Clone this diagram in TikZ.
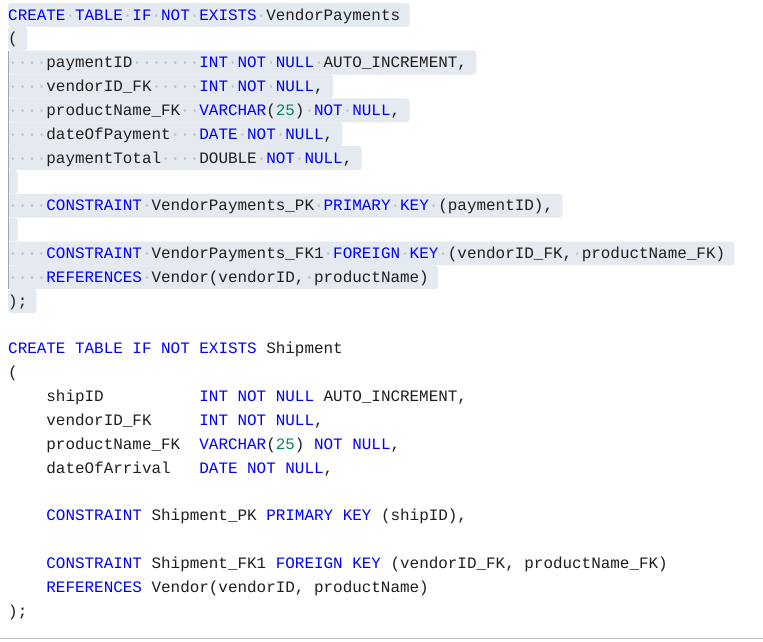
\documentclass[tikz,border=0pt]{standalone}
\usepackage{fontspec}
\setmonofont{Liberation Mono}
\usepackage{xcolor}
\definecolor{kw}{HTML}{0000FF}
\definecolor{num}{HTML}{098658}
\definecolor{txt}{HTML}{1F1F1F}
\definecolor{sel}{HTML}{E5EAF1}
\definecolor{dotc}{HTML}{B8BCC4}
\newcommand{\kw}[1]{{\color{kw}#1}}
\newcommand{\nm}[1]{{\color{num}#1}}
\newcommand{\dt}{{\color{dotc}·}}
\newcommand{\sq}{\ }
\begin{document}
\begin{tikzpicture}[x=1pt,y=-1pt]
\tikzset{codeline/.style={anchor=base west,inner sep=0pt,font=\ttfamily\fontsize{15.93}{24}\selectfont,text=txt},
 selbox/.style={fill=sel,rounded corners=3pt}}
\useasboundingbox (0,0) rectangle (763,641);
\fill[white] (0,0) rectangle (763,641);
\def\cw{9.56}
\def\lh{23.85}
% selection highlights
\foreach \r/\n in {0/41,1/1,2/48,3/33,4/41,5/34,6/36,7/0,8/57,9/0,10/75,11/44,12/2}{
  \fill[selbox] (8,{3+\lh*\r}) rectangle ({8+(\n+1)*\cw},{3+\lh*(\r+1)});
}
\draw[gray!70,line width=0.8pt] (8.5,{3+\lh*2}) -- (8.5,{3+\lh*12});
\newcommand{\Ln}[2]{\node[codeline] (l#1) at (8,{20+\lh*#1}) {\strut #2};}
\Ln{0}{\kw{CREATE}\dt\kw{TABLE}\dt\kw{IF}\dt\kw{NOT}\dt\kw{EXISTS}\dt VendorPayments}
\Ln{1}{(}
\Ln{2}{\dt\dt\dt\dt paymentID\dt\dt\dt\dt\dt\dt\dt\kw{INT}\dt\kw{NOT}\dt\kw{NULL}\dt AUTO\_INCREMENT,}
\Ln{3}{\dt\dt\dt\dt vendorID\_FK\dt\dt\dt\dt\dt\kw{INT}\dt\kw{NOT}\dt\kw{NULL},}
\Ln{4}{\dt\dt\dt\dt productName\_FK\dt\dt\kw{VARCHAR}(\nm{25})\dt\kw{NOT}\dt\kw{NULL},}
\Ln{5}{\dt\dt\dt\dt dateOfPayment\dt\dt\dt\kw{DATE}\dt\kw{NOT}\dt\kw{NULL},}
\Ln{6}{\dt\dt\dt\dt paymentTotal\dt\dt\dt\dt DOUBLE\dt\kw{NOT}\dt\kw{NULL},}
\Ln{8}{\dt\dt\dt\dt\kw{CONSTRAINT}\dt VendorPayments\_PK\dt\kw{PRIMARY}\dt\kw{KEY}\dt(paymentID),}
\Ln{10}{\dt\dt\dt\dt\kw{CONSTRAINT}\dt VendorPayments\_FK1\dt\kw{FOREIGN}\dt\kw{KEY}\dt(vendorID\_FK,\dt productName\_FK)}
\Ln{11}{\dt\dt\dt\dt\kw{REFERENCES}\dt Vendor(vendorID,\dt productName)}
\Ln{12}{);}
\Ln{14}{\kw{CREATE}\sq\kw{TABLE}\sq\kw{IF}\sq\kw{NOT}\sq\kw{EXISTS}\sq Shipment}
\Ln{15}{(}
\Ln{16}{\sq\sq\sq\sq shipID\sq\sq\sq\sq\sq\sq\sq\sq\sq\sq\kw{INT}\sq\kw{NOT}\sq\kw{NULL}\sq AUTO\_INCREMENT,}
\Ln{17}{\sq\sq\sq\sq vendorID\_FK\sq\sq\sq\sq\sq\kw{INT}\sq\kw{NOT}\sq\kw{NULL},}
\Ln{18}{\sq\sq\sq\sq productName\_FK\sq\sq\kw{VARCHAR}(\nm{25})\sq\kw{NOT}\sq\kw{NULL},}
\Ln{19}{\sq\sq\sq\sq dateOfArrival\sq\sq\sq\kw{DATE}\sq\kw{NOT}\sq\kw{NULL},}
\Ln{21}{\sq\sq\sq\sq\kw{CONSTRAINT}\sq Shipment\_PK\sq\kw{PRIMARY}\sq\kw{KEY}\sq(shipID),}
\Ln{23}{\sq\sq\sq\sq\kw{CONSTRAINT}\sq Shipment\_FK1\sq\kw{FOREIGN}\sq\kw{KEY}\sq(vendorID\_FK,\sq productName\_FK)}
\Ln{24}{\sq\sq\sq\sq\kw{REFERENCES}\sq Vendor(vendorID,\sq productName)}
\Ln{25}{);}
\draw[gray!50,line width=1pt] (0,638.5) -- (763,638.5);
\end{tikzpicture}
\end{document}
